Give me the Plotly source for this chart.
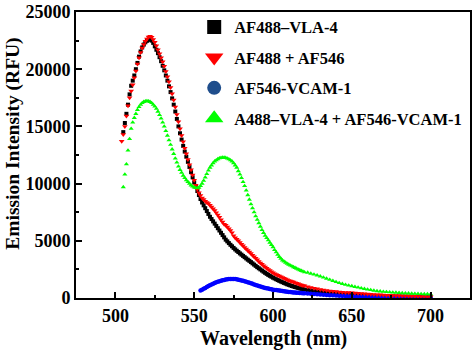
import plotly.graph_objects as go

# ---------------- data ----------------
wl_black = list(range(505, 621)) + list(range(622, 701, 2))
af488_vla4 = [
    14500, 15300, 16100, 16900, 17800, 18550, 19000, 19450, 20000, 20550,
    21100, 21550, 21900, 22150, 22350, 22480, 22580, 22600, 22500, 22300,
    22000, 21700, 21400, 21050, 20700, 20300, 19900, 19450, 19000, 18500,
    18000, 17450, 16900, 16300, 15650, 15000, 14400, 13850, 13300, 12800,
    12350, 11900, 11450, 11000, 10550, 10100, 9700, 9350, 9000, 8650,
    8350, 8100, 7850, 7600, 7350, 7100, 6900, 6700, 6500, 6300,
    6100, 5900, 5700, 5500, 5300, 5100, 4950, 4800, 4650, 4520,
    4380, 4250, 4130, 4020, 3900, 3790, 3680, 3570, 3460, 3350,
    3250, 3140, 3030, 2920, 2810, 2700, 2600, 2500, 2400, 2300,
    2200, 2110, 2020, 1940, 1860, 1780, 1710, 1640, 1570, 1500,
    1440, 1380, 1320, 1260, 1200, 1150, 1100, 1050, 1000, 960,
    920, 880, 840, 800, 770, 740,
    690, 640, 590, 550, 510, 470, 440, 410, 380, 350,
    330, 310, 290, 270, 255, 240, 225, 210, 200, 190,
    180, 170, 160, 155, 150, 145, 140, 135, 130, 125,
    122, 120, 118, 115, 112, 110, 108, 105, 102, 100,
]

wl_red = list(range(504, 621)) + list(range(622, 701, 2))
af488_af546 = [
    13700, 14300, 15000, 15900, 16800, 17500, 18100, 18650, 19250, 19850,
    20450, 21000, 21450, 21850, 22150, 22450, 22650, 22820, 22880, 22800,
    22600, 22350, 22050, 21700, 21350, 21000, 20650, 20250, 19800, 19350,
    18900, 18400, 17850, 17300, 16700, 16050, 15400, 14800, 14200, 13650,
    13100, 12600, 12100, 11650, 11200, 10750, 10300, 9850, 9500, 9200,
    8950, 8750, 8600, 8450, 8350, 8250, 8100, 7950, 7800, 7650,
    7450, 7250, 7050, 6850, 6650, 6450, 6350, 6200, 6050, 5900,
    5700, 5450, 5270, 5130, 5000, 4850, 4700, 4560, 4420, 4280,
    4150, 4020, 3880, 3740, 3610, 3480, 3350, 3200, 3070, 2950,
    2820, 2700, 2600, 2500, 2400, 2300, 2200, 2130, 2060, 1990,
    1920, 1850, 1790, 1730, 1660, 1600, 1540, 1490, 1440, 1390,
    1340, 1290, 1240, 1190, 1140, 1100, 1060,
    990, 920, 850, 800, 750, 710, 660, 620, 590, 560,
    530, 510, 490, 470, 450, 430, 410, 390, 370, 350,
    330, 310, 295, 280, 265, 250, 235, 220, 205, 195,
    185, 175, 165, 155, 145, 138, 130, 122, 115, 110,
]

wl_blue = list(range(554, 621)) + list(range(622, 701, 2))
af546_vcam1 = [
    650, 720, 800, 880, 960, 1040, 1110, 1180, 1250, 1310,
    1370, 1420, 1470, 1510, 1550, 1580, 1610, 1630, 1650, 1660,
    1670, 1660, 1650, 1630, 1600, 1570, 1540, 1500, 1460, 1420,
    1380, 1340, 1290, 1240, 1190, 1140, 1090, 1040, 1000, 960,
    920, 880, 850, 820, 790, 760, 730, 710, 690, 670,
    650, 630, 610, 590, 570, 550, 535, 520, 505, 490,
    475, 460, 450, 440, 430, 420, 410,
    390, 370, 350, 330, 310, 290, 270, 250, 235, 220,
    205, 190, 175, 160, 150, 140, 130, 120, 110, 100,
    95, 90, 85, 80, 75, 72, 70, 67, 65, 62,
    60, 58, 56, 55, 54, 53, 52, 51, 50, 50,
]

wl_green = list(range(505, 621)) + list(range(622, 701, 2))
fret_mix = [
    9700, 10800, 11700, 12900, 13900, 14800, 15350, 15750, 16100, 16450,
    16700, 16900, 17050, 17150, 17200, 17220, 17200, 17150, 17050, 16900,
    16750, 16550, 16300, 16000, 15700, 15350, 15000, 14600, 14200, 13800,
    13400, 13000, 12600, 12200, 11850, 11500, 11200, 10950, 10700, 10500,
    10300, 10150, 10000, 9850, 9750, 9680, 9620, 9600, 9650, 9800,
    10000, 10250, 10550, 10850, 11150, 11400, 11600, 11800, 11950, 12050,
    12150, 12220, 12260, 12280, 12280, 12250, 12200, 12130, 12050, 11950,
    11800, 11600, 11400, 11100, 10800, 10500, 10150, 9800, 9400, 9000,
    8600, 8200, 7850, 7500, 7150, 6850, 6550, 6250, 5950, 5700,
    5450, 5250, 5050, 4850, 4650, 4450, 4200, 4000, 3800, 3600,
    3450, 3300, 3200, 3100, 3000, 2920, 2850, 2780, 2710, 2640,
    2570, 2500, 2440, 2380, 2320, 2260,
    2220, 2140, 2060, 1980, 1900, 1800, 1700, 1600, 1500, 1400,
    1320, 1240, 1160, 1100, 1040, 980, 920, 860, 800, 750,
    700, 650, 610, 580, 550, 530, 510, 490, 470, 450,
    435, 420, 405, 390, 380, 370, 360, 350, 340, 330,
]

labels = ["AF488–VLA-4", "AF488 + AF546", "AF546-VCAM-1", "A488–VLA-4 + AF546-VCAM-1"]
x_ticks = [500, 550, 600, 650, 700]
y_ticks = [0, 5000, 10000, 15000, 20000, 25000]

# ---------------- figure ----------------
SERIF = "Liberation Serif, Times New Roman, serif"
fig = go.Figure()

series = [
    (wl_black, af488_vla4, "square", "#000000", 4),
    (wl_blue, af546_vcam1, "circle", "#0000ff", 4.5),
    (wl_red, af488_af546, "triangle-down", "#ff0000", 5),
    (wl_green, fret_mix, "triangle-up", "#00ff00", 4.5),
]
for xs, ys, sym, col, sz in series:
    n = min(len(xs), len(ys))
    fig.add_trace(go.Scatter(
        x=xs[:n], y=ys[:n], mode="markers", showlegend=False,
        marker=dict(symbol=sym, color=col, size=sz, line=dict(width=0)),
        hoverinfo="skip",
    ))

legend_style = [
    ("square", "#000000", 14),
    ("triangle-down", "#ff0000", 16),
    ("circle", "#1f4e8c", 14),
    ("triangle-up", "#00ff00", 16),
]
for i, (lab, (sym, col, sz)) in enumerate(zip(labels, legend_style)):
    fig.add_trace(go.Scatter(
        x=[None], y=[None], mode="markers", name=lab, legendgroup=f"g{i}",
        marker=dict(symbol=sym, color=col, size=sz, line=dict(width=0)),
    ))

axis_common = dict(
    showline=True, linecolor="black", linewidth=2, mirror=True,
    ticks="inside", ticklen=6, tickwidth=1.5, tickcolor="black",
    showgrid=False, zeroline=False, ticklabeloverflow="allow",
    tickfont=dict(family=SERIF, size=18, color="black", weight="bold"),
)
fig.update_xaxes(
    range=[475, 725], tickvals=x_ticks, ticktext=[str(v) for v in x_ticks],
    minor=dict(ticks="inside", ticklen=3, tickwidth=1.5, tickcolor="black", dtick=25, tick0=475),
    **axis_common,
)
fig.update_yaxes(
    range=[0, 25000], tickvals=y_ticks, ticktext=[str(v) for v in y_ticks],
    minor=dict(ticks="inside", ticklen=3, tickwidth=1.5, tickcolor="black", dtick=2500, tick0=0),
    **axis_common,
)

fig.add_annotation(
    text="<b>Wavelength (nm)</b>", xref="paper", yref="paper", x=0.5, y=-0.141,
    showarrow=False, font=dict(family=SERIF, size=20, color="black"),
    xanchor="center", yanchor="middle",
)
fig.add_annotation(
    text="<b>Emission Intensity (RFU)</b>", xref="paper", yref="paper", x=-0.162, y=0.54,
    showarrow=False, textangle=-90, font=dict(family=SERIF, size=19.5, color="black"),
    xanchor="center", yanchor="middle",
)

fig.update_layout(
    width=474, height=352,
    margin=dict(l=76, r=2, t=7, b=54),
    paper_bgcolor="white", plot_bgcolor="white",
    showlegend=True,
    legend=dict(
        x=0.30, y=1.008, xanchor="left", yanchor="top",
        bgcolor="rgba(0,0,0,0)", borderwidth=0,
        font=dict(family=SERIF, size=16.5, color="black", weight="bold"),
        tracegroupgap=6, itemsizing="trace",
    ),
)

fig.write_html("out.html")
